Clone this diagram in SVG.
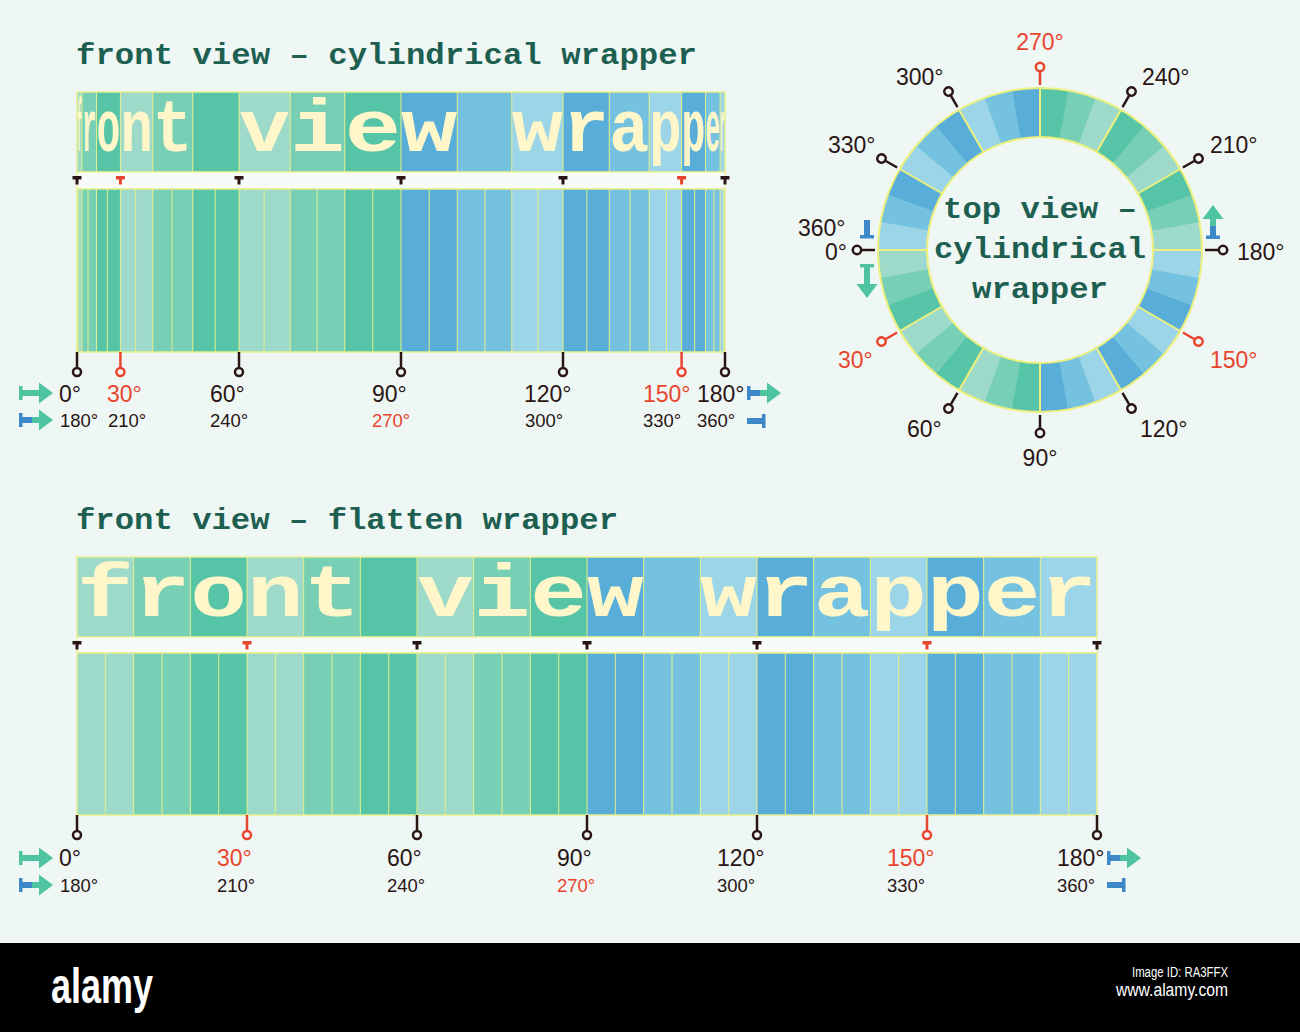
<svg xmlns="http://www.w3.org/2000/svg" xmlns:xlink="http://www.w3.org/1999/xlink" width="1300" height="1032" viewBox="0 0 1300 1032">
<style>
.gl{fill:#9edac9}.gm{fill:#77cfb6}.gd{fill:#56c4a6}
.bd{fill:#58aed8}.bm{fill:#74c2e0}.bl{fill:#9cd5e7}
.sep{stroke:#e2ef8c;stroke-width:1;fill:none}
.frame{fill:none;stroke:#e6f08a;stroke-width:1.5}
.gap{fill:#f7fbf9;stroke:#e6f08a;stroke-width:1}
.ban{font-family:'Liberation Mono','DejaVu Sans Mono',monospace;font-weight:bold;font-size:74px;fill:#fff7c9}
.ttl{font-family:'Liberation Mono','DejaVu Sans Mono',monospace;font-weight:bold;font-size:29px;fill:#1d5f50}
.lb{font-family:'Liberation Sans',Arial,sans-serif;font-size:23px;fill:#2a1515}
.ls{font-family:'Liberation Sans',Arial,sans-serif;font-size:18.5px;fill:#2a1515}
.red{fill:#e8452f}
.tk{stroke:#2a1515;stroke-width:2.5;fill:none}
.dot{fill:#f0f7f5;stroke:#2a1515;stroke-width:2.5}
.rk .tk,.rk .dot{stroke:#e8452f}
.ring{fill:none;stroke-width:49}
.rs{stroke:#eef07e;stroke-width:2;fill:none}
.foot{font-family:'Liberation Sans',Arial,sans-serif;fill:#fff}
</style>
<defs>
<g id="tmark"><rect x="-4.5" y="0" width="9" height="3.5"/><rect x="-1.5" y="0" width="3" height="8.5"/></g>
<g id="arrG" fill="#4fc4a1"><rect x="0" y="-7" width="3.5" height="14"/><rect x="0" y="-3" width="22" height="6"/><polygon points="20,-10.5 34,0 20,10.5"/></g>
<g id="arrBG"><rect x="0" y="-7" width="3.5" height="14" fill="#3d88c8"/><rect x="0" y="-3" width="13" height="6" fill="#3d88c8"/><rect x="13" y="-3" width="9" height="6" fill="#4fc4a1"/><polygon points="20,-10.5 34,0 20,10.5" fill="#4fc4a1"/></g>
<g id="endB" fill="#3d88c8"><rect x="0" y="-3" width="18" height="6"/><rect x="15" y="-7" width="3.5" height="14"/></g>
</defs>
<rect x="0" y="0" width="1300" height="1032" fill="#eff7f4"/>

<!-- ===== front view - cylindrical ===== -->
<g id="title-cyl"><text class="ttl" x="76" y="64" textLength="621" lengthAdjust="spacingAndGlyphs">front view – cylindrical wrapper</text></g>

<g id="cyl-banner">
<rect class="gl" x="77" y="92" width="4.92" height="80"/>
<rect class="gm" x="81.92" y="92" width="14.62" height="80"/>
<rect class="gd" x="96.54" y="92" width="23.87" height="80"/>
<rect class="gl" x="120.41" y="92" width="32.39" height="80"/>
<rect class="gm" x="152.8" y="92" width="39.94" height="80"/>
<rect class="gd" x="192.74" y="92" width="46.26" height="80"/>
<rect class="gl" x="239" y="92" width="51.19" height="80"/>
<rect class="gm" x="290.19" y="92" width="54.55" height="80"/>
<rect class="gd" x="344.74" y="92" width="56.26" height="80"/>
<rect class="bd" x="401" y="92" width="56.26" height="80"/>
<rect class="bm" x="457.26" y="92" width="54.55" height="80"/>
<rect class="bl" x="511.81" y="92" width="51.19" height="80"/>
<rect class="bd" x="563" y="92" width="46.26" height="80"/>
<rect class="bm" x="609.26" y="92" width="39.94" height="80"/>
<rect class="bl" x="649.2" y="92" width="32.39" height="80"/>
<rect class="bd" x="681.59" y="92" width="23.87" height="80"/>
<rect class="bm" x="705.46" y="92" width="14.62" height="80"/>
<rect class="bl" x="720.08" y="92" width="4.92" height="80"/>
<path class="sep" d="M81.92 92V172M96.54 92V172M120.41 92V172M152.8 92V172M192.74 92V172M239 92V172M290.19 92V172M344.74 92V172M401 92V172M457.26 92V172M511.81 92V172M563 92V172M609.26 92V172M649.2 92V172M681.59 92V172M705.46 92V172M720.08 92V172"/>
<g class="ban">
<text transform="translate(77,151) scale(0.1108,1)">f</text>
<text transform="translate(81.92,151) scale(0.3293,1)">r</text>
<text transform="translate(96.54,151) scale(0.5376,1)">o</text>
<text transform="translate(120.41,151) scale(0.7295,1)">n</text>
<text transform="translate(152.8,151) scale(0.8995,1)">t</text>
<text transform="translate(239,151) scale(1.1529,1)">v</text>
<text transform="translate(290.19,151) scale(1.2286,1)">i</text>
<text transform="translate(344.74,151) scale(1.2671,1)">e</text>
<text transform="translate(401,151) scale(1.2671,1)">w</text>
<text transform="translate(511.81,151) scale(1.1529,1)">w</text>
<text transform="translate(563,151) scale(1.0419,1)">r</text>
<text transform="translate(609.26,151) scale(0.8995,1)">a</text>
<text transform="translate(649.2,151) scale(0.7295,1)">p</text>
<text transform="translate(681.59,151) scale(0.5376,1)">p</text>
<text transform="translate(705.46,151) scale(0.3293,1)">e</text>
<text transform="translate(720.08,151) scale(0.1108,1)">r</text>
</g>
<rect class="frame" x="77" y="92" width="648" height="80"/>
<rect class="gap" x="77" y="172" width="648" height="17"/>
<use href="#tmark" x="77" y="176" fill="#2a1515"/>
<use href="#tmark" x="120.41" y="176" fill="#e8452f"/>
<use href="#tmark" x="239" y="176" fill="#2a1515"/>
<use href="#tmark" x="401" y="176" fill="#2a1515"/>
<use href="#tmark" x="563" y="176" fill="#2a1515"/>
<use href="#tmark" x="681.59" y="176" fill="#e8452f"/>
<use href="#tmark" x="725" y="176" fill="#2a1515"/>
</g>

<g id="cyl-body">
<rect class="gl" x="77" y="189" width="4.92" height="163"/>
<rect class="gm" x="81.92" y="189" width="14.62" height="163"/>
<rect class="gd" x="96.54" y="189" width="23.87" height="163"/>
<rect class="gl" x="120.41" y="189" width="32.39" height="163"/>
<rect class="gm" x="152.8" y="189" width="39.94" height="163"/>
<rect class="gd" x="192.74" y="189" width="46.26" height="163"/>
<rect class="gl" x="239" y="189" width="51.19" height="163"/>
<rect class="gm" x="290.19" y="189" width="54.55" height="163"/>
<rect class="gd" x="344.74" y="189" width="56.26" height="163"/>
<rect class="bd" x="401" y="189" width="56.26" height="163"/>
<rect class="bm" x="457.26" y="189" width="54.55" height="163"/>
<rect class="bl" x="511.81" y="189" width="51.19" height="163"/>
<rect class="bd" x="563" y="189" width="46.26" height="163"/>
<rect class="bm" x="609.26" y="189" width="39.94" height="163"/>
<rect class="bl" x="649.2" y="189" width="32.39" height="163"/>
<rect class="bd" x="681.59" y="189" width="23.87" height="163"/>
<rect class="bm" x="705.46" y="189" width="14.62" height="163"/>
<rect class="bl" x="720.08" y="189" width="4.92" height="163"/>
<path class="sep" d="M78.23 189V352M81.92 189V352M88.04 189V352M96.54 189V352M107.36 189V352M120.41 189V352M135.6 189V352M152.8 189V352M171.9 189V352M192.74 189V352M215.16 189V352M239 189V352M264.07 189V352M290.19 189V352M317.14 189V352M344.74 189V352M372.76 189V352M401 189V352M429.24 189V352M457.26 189V352M484.86 189V352M511.81 189V352M537.93 189V352M563 189V352M586.84 189V352M609.26 189V352M630.1 189V352M649.2 189V352M666.4 189V352M681.59 189V352M694.64 189V352M705.46 189V352M713.96 189V352M720.08 189V352M723.77 189V352"/>
<rect class="frame" x="77" y="189" width="648" height="163"/>
</g>

<g id="cyl-ticks">
<g><line class="tk" x1="77" y1="352" x2="77" y2="368"/><circle class="dot" cx="77" cy="372" r="4"/></g>
<g class="rk"><line class="tk" x1="120.41" y1="352" x2="120.41" y2="368"/><circle class="dot" cx="120.41" cy="372" r="4"/></g>
<g><line class="tk" x1="239" y1="352" x2="239" y2="368"/><circle class="dot" cx="239" cy="372" r="4"/></g>
<g><line class="tk" x1="401" y1="352" x2="401" y2="368"/><circle class="dot" cx="401" cy="372" r="4"/></g>
<g><line class="tk" x1="563" y1="352" x2="563" y2="368"/><circle class="dot" cx="563" cy="372" r="4"/></g>
<g class="rk"><line class="tk" x1="681.59" y1="352" x2="681.59" y2="368"/><circle class="dot" cx="681.59" cy="372" r="4"/></g>
<g><line class="tk" x1="725" y1="352" x2="725" y2="368"/><circle class="dot" cx="725" cy="372" r="4"/></g>
</g>

<g id="cyl-labels">
<text class="lb" x="59" y="402">0°</text>
<text class="lb red" x="107" y="402">30°</text>
<text class="lb" x="210" y="402">60°</text>
<text class="lb" x="372" y="402">90°</text>
<text class="lb" x="524" y="402">120°</text>
<text class="lb red" x="643" y="402">150°</text>
<text class="lb" x="697" y="402">180°</text>
<text class="ls" x="60" y="427">180°</text>
<text class="ls" x="108" y="427">210°</text>
<text class="ls" x="210" y="427">240°</text>
<text class="ls red" x="372" y="427">270°</text>
<text class="ls" x="525" y="427">300°</text>
<text class="ls" x="643" y="427">330°</text>
<text class="ls" x="697" y="427">360°</text>
<use href="#arrG" transform="translate(19,393)"/>
<use href="#arrBG" transform="translate(19,420)"/>
<use href="#arrBG" transform="translate(747,393)"/>
<use href="#endB" transform="translate(747,421)"/>
</g>

<!-- ===== top view ===== -->
<g id="top-view">
<g transform="translate(1040,250) scale(-1,1)">
<circle class="ring" r="137.5" stroke="#80cbc4"/>
<circle class="ring" r="137.5" pathLength="360" stroke="#9edac9" stroke-dasharray="10 20 10 20 10 110 10 20 10 20 10 110" stroke-dashoffset="0"/>
<circle class="ring" r="137.5" pathLength="360" stroke="#77cfb6" stroke-dasharray="10 20 10 20 10 110 10 20 10 20 10 110" stroke-dashoffset="-10"/>
<circle class="ring" r="137.5" pathLength="360" stroke="#56c4a6" stroke-dasharray="10 20 10 20 10 110 10 20 10 20 10 110" stroke-dashoffset="-20"/>
<circle class="ring" r="137.5" pathLength="360" stroke="#58aed8" stroke-dasharray="10 20 10 20 10 110 10 20 10 20 10 110" stroke-dashoffset="-90"/>
<circle class="ring" r="137.5" pathLength="360" stroke="#74c2e0" stroke-dasharray="10 20 10 20 10 110 10 20 10 20 10 110" stroke-dashoffset="-100"/>
<circle class="ring" r="137.5" pathLength="360" stroke="#9cd5e7" stroke-dasharray="10 20 10 20 10 110 10 20 10 20 10 110" stroke-dashoffset="-110"/>
</g>
<g transform="translate(1040,250)">
<g class="rs">
<line x1="-113" y1="0" x2="-162" y2="0"/>
<line x1="-113" y1="0" x2="-162" y2="0" transform="rotate(-30)"/>
<line x1="-113" y1="0" x2="-162" y2="0" transform="rotate(-60)"/>
<line x1="-113" y1="0" x2="-162" y2="0" transform="rotate(-90)"/>
<line x1="-113" y1="0" x2="-162" y2="0" transform="rotate(-120)"/>
<line x1="-113" y1="0" x2="-162" y2="0" transform="rotate(-150)"/>
<line x1="-113" y1="0" x2="-162" y2="0" transform="rotate(-180)"/>
<line x1="-113" y1="0" x2="-162" y2="0" transform="rotate(-210)"/>
<line x1="-113" y1="0" x2="-162" y2="0" transform="rotate(-240)"/>
<line x1="-113" y1="0" x2="-162" y2="0" transform="rotate(-270)"/>
<line x1="-113" y1="0" x2="-162" y2="0" transform="rotate(-300)"/>
<line x1="-113" y1="0" x2="-162" y2="0" transform="rotate(-330)"/>
<circle r="162"/>
<circle r="113"/>
</g>
<g id="ring-ticks">
<g transform="rotate(0)"><line class="tk" x1="-165" y1="0" x2="-178" y2="0"/><circle class="dot" cx="-183" cy="0" r="4.2"/></g>
<g class="rk" transform="rotate(-30)"><line class="tk" x1="-165" y1="0" x2="-178" y2="0"/><circle class="dot" cx="-183" cy="0" r="4.2"/></g>
<g transform="rotate(-60)"><line class="tk" x1="-165" y1="0" x2="-178" y2="0"/><circle class="dot" cx="-183" cy="0" r="4.2"/></g>
<g transform="rotate(-90)"><line class="tk" x1="-165" y1="0" x2="-178" y2="0"/><circle class="dot" cx="-183" cy="0" r="4.2"/></g>
<g transform="rotate(-120)"><line class="tk" x1="-165" y1="0" x2="-178" y2="0"/><circle class="dot" cx="-183" cy="0" r="4.2"/></g>
<g class="rk" transform="rotate(-150)"><line class="tk" x1="-165" y1="0" x2="-178" y2="0"/><circle class="dot" cx="-183" cy="0" r="4.2"/></g>
<g transform="rotate(-180)"><line class="tk" x1="-165" y1="0" x2="-178" y2="0"/><circle class="dot" cx="-183" cy="0" r="4.2"/></g>
<g transform="rotate(-210)"><line class="tk" x1="-165" y1="0" x2="-178" y2="0"/><circle class="dot" cx="-183" cy="0" r="4.2"/></g>
<g transform="rotate(-240)"><line class="tk" x1="-165" y1="0" x2="-178" y2="0"/><circle class="dot" cx="-183" cy="0" r="4.2"/></g>
<g class="rk" transform="rotate(-270)"><line class="tk" x1="-165" y1="0" x2="-178" y2="0"/><circle class="dot" cx="-183" cy="0" r="4.2"/></g>
<g transform="rotate(-300)"><line class="tk" x1="-165" y1="0" x2="-178" y2="0"/><circle class="dot" cx="-183" cy="0" r="4.2"/></g>
<g transform="rotate(-330)"><line class="tk" x1="-165" y1="0" x2="-178" y2="0"/><circle class="dot" cx="-183" cy="0" r="4.2"/></g>
</g>
</g>
<g class="ttl" text-anchor="middle">
<text x="1040" y="218" textLength="194" lengthAdjust="spacingAndGlyphs">top view –</text>
<text x="1040" y="258" textLength="212" lengthAdjust="spacingAndGlyphs">cylindrical</text>
<text x="1040" y="298" textLength="136" lengthAdjust="spacingAndGlyphs">wrapper</text>
</g>
<g id="ring-labels">
<text class="lb red" x="1040" y="50" text-anchor="middle">270°</text>
<text class="lb" x="896" y="85">300°</text>
<text class="lb" x="828" y="153">330°</text>
<text class="lb" x="798" y="236">360°</text>
<text class="lb" x="825" y="260">0°</text>
<text class="lb red" x="838" y="368">30°</text>
<text class="lb" x="907" y="437">60°</text>
<text class="lb" x="1040" y="466" text-anchor="middle">90°</text>
<text class="lb" x="1140" y="437">120°</text>
<text class="lb red" x="1210" y="368">150°</text>
<text class="lb" x="1237" y="260">180°</text>
<text class="lb" x="1210" y="153">210°</text>
<text class="lb" x="1142" y="85">240°</text>
</g>
<use href="#endB" transform="translate(867,220) rotate(90)"/>
<use href="#arrG" transform="translate(867,264) rotate(90)"/>
<use href="#arrBG" transform="translate(1213,239) rotate(-90)"/>
</g>

<!-- ===== front view - flatten ===== -->
<g id="title-flat"><text class="ttl" x="76" y="529" textLength="542" lengthAdjust="spacingAndGlyphs">front view – flatten wrapper</text></g>

<g id="flat-banner">
<rect class="gl" x="77" y="557" width="56.67" height="80"/>
<rect class="gm" x="133.67" y="557" width="56.67" height="80"/>
<rect class="gd" x="190.33" y="557" width="56.67" height="80"/>
<rect class="gl" x="247" y="557" width="56.67" height="80"/>
<rect class="gm" x="303.67" y="557" width="56.67" height="80"/>
<rect class="gd" x="360.33" y="557" width="56.67" height="80"/>
<rect class="gl" x="417" y="557" width="56.67" height="80"/>
<rect class="gm" x="473.67" y="557" width="56.67" height="80"/>
<rect class="gd" x="530.33" y="557" width="56.67" height="80"/>
<rect class="bd" x="587" y="557" width="56.67" height="80"/>
<rect class="bm" x="643.67" y="557" width="56.67" height="80"/>
<rect class="bl" x="700.33" y="557" width="56.67" height="80"/>
<rect class="bd" x="757" y="557" width="56.67" height="80"/>
<rect class="bm" x="813.67" y="557" width="56.67" height="80"/>
<rect class="bl" x="870.33" y="557" width="56.67" height="80"/>
<rect class="bd" x="927" y="557" width="56.67" height="80"/>
<rect class="bm" x="983.67" y="557" width="56.67" height="80"/>
<rect class="bl" x="1040.33" y="557" width="56.67" height="80"/>
<path class="sep" d="M133.67 557V637M190.33 557V637M247 557V637M303.67 557V637M360.33 557V637M417 557V637M473.67 557V637M530.33 557V637M587 557V637M643.67 557V637M700.33 557V637M757 557V637M813.67 557V637M870.33 557V637M927 557V637M983.67 557V637M1040.33 557V637"/>
<text class="ban" x="77" y="616" textLength="1020" lengthAdjust="spacingAndGlyphs">front view wrapper</text>
<rect class="frame" x="77" y="557" width="1020" height="80"/>
<rect class="gap" x="77" y="637" width="1020" height="16"/>
<use href="#tmark" x="77" y="641" fill="#2a1515"/>
<use href="#tmark" x="247" y="641" fill="#e8452f"/>
<use href="#tmark" x="417" y="641" fill="#2a1515"/>
<use href="#tmark" x="587" y="641" fill="#2a1515"/>
<use href="#tmark" x="757" y="641" fill="#2a1515"/>
<use href="#tmark" x="927" y="641" fill="#e8452f"/>
<use href="#tmark" x="1097" y="641" fill="#2a1515"/>
</g>

<g id="flat-body">
<rect class="gl" x="77" y="653" width="56.67" height="162"/>
<rect class="gm" x="133.67" y="653" width="56.67" height="162"/>
<rect class="gd" x="190.33" y="653" width="56.67" height="162"/>
<rect class="gl" x="247" y="653" width="56.67" height="162"/>
<rect class="gm" x="303.67" y="653" width="56.67" height="162"/>
<rect class="gd" x="360.33" y="653" width="56.67" height="162"/>
<rect class="gl" x="417" y="653" width="56.67" height="162"/>
<rect class="gm" x="473.67" y="653" width="56.67" height="162"/>
<rect class="gd" x="530.33" y="653" width="56.67" height="162"/>
<rect class="bd" x="587" y="653" width="56.67" height="162"/>
<rect class="bm" x="643.67" y="653" width="56.67" height="162"/>
<rect class="bl" x="700.33" y="653" width="56.67" height="162"/>
<rect class="bd" x="757" y="653" width="56.67" height="162"/>
<rect class="bm" x="813.67" y="653" width="56.67" height="162"/>
<rect class="bl" x="870.33" y="653" width="56.67" height="162"/>
<rect class="bd" x="927" y="653" width="56.67" height="162"/>
<rect class="bm" x="983.67" y="653" width="56.67" height="162"/>
<rect class="bl" x="1040.33" y="653" width="56.67" height="162"/>
<path class="sep" d="M105.33 653V815M133.67 653V815M162 653V815M190.33 653V815M218.67 653V815M247 653V815M275.33 653V815M303.67 653V815M332 653V815M360.33 653V815M388.67 653V815M417 653V815M445.33 653V815M473.67 653V815M502 653V815M530.33 653V815M558.67 653V815M587 653V815M615.33 653V815M643.67 653V815M672 653V815M700.33 653V815M728.67 653V815M757 653V815M785.33 653V815M813.67 653V815M842 653V815M870.33 653V815M898.67 653V815M927 653V815M955.33 653V815M983.67 653V815M1012 653V815M1040.33 653V815M1068.67 653V815"/>
<rect class="frame" x="77" y="653" width="1020" height="162"/>
</g>

<g id="flat-ticks">
<g><line class="tk" x1="77" y1="815" x2="77" y2="831"/><circle class="dot" cx="77" cy="835" r="4"/></g>
<g class="rk"><line class="tk" x1="247" y1="815" x2="247" y2="831"/><circle class="dot" cx="247" cy="835" r="4"/></g>
<g><line class="tk" x1="417" y1="815" x2="417" y2="831"/><circle class="dot" cx="417" cy="835" r="4"/></g>
<g><line class="tk" x1="587" y1="815" x2="587" y2="831"/><circle class="dot" cx="587" cy="835" r="4"/></g>
<g><line class="tk" x1="757" y1="815" x2="757" y2="831"/><circle class="dot" cx="757" cy="835" r="4"/></g>
<g class="rk"><line class="tk" x1="927" y1="815" x2="927" y2="831"/><circle class="dot" cx="927" cy="835" r="4"/></g>
<g><line class="tk" x1="1097" y1="815" x2="1097" y2="831"/><circle class="dot" cx="1097" cy="835" r="4"/></g>
</g>

<g id="flat-labels">
<text class="lb" x="59" y="866">0°</text>
<text class="lb red" x="217" y="866">30°</text>
<text class="lb" x="387" y="866">60°</text>
<text class="lb" x="557" y="866">90°</text>
<text class="lb" x="717" y="866">120°</text>
<text class="lb red" x="887" y="866">150°</text>
<text class="lb" x="1057" y="866">180°</text>
<text class="ls" x="60" y="892">180°</text>
<text class="ls" x="217" y="892">210°</text>
<text class="ls" x="387" y="892">240°</text>
<text class="ls red" x="557" y="892">270°</text>
<text class="ls" x="717" y="892">300°</text>
<text class="ls" x="887" y="892">330°</text>
<text class="ls" x="1057" y="892">360°</text>
<use href="#arrG" transform="translate(19,858)"/>
<use href="#arrBG" transform="translate(19,885)"/>
<use href="#arrBG" transform="translate(1107,858)"/>
<use href="#endB" transform="translate(1107,885)"/>
</g>

<!-- ===== footer ===== -->
<g id="footer">
<rect x="0" y="943" width="1300" height="89" fill="#000"/>
<text class="foot" x="51" y="1003" font-size="50" font-weight="bold" textLength="102" lengthAdjust="spacingAndGlyphs">alamy</text>
<text class="foot" x="1228" y="977" font-size="14" text-anchor="end" fill="#ddd" textLength="96" lengthAdjust="spacingAndGlyphs">Image ID: RA3FFX</text>
<text class="foot" x="1228" y="996" font-size="18" text-anchor="end" textLength="112" lengthAdjust="spacingAndGlyphs">www.alamy.com</text>
</g>
</svg>
